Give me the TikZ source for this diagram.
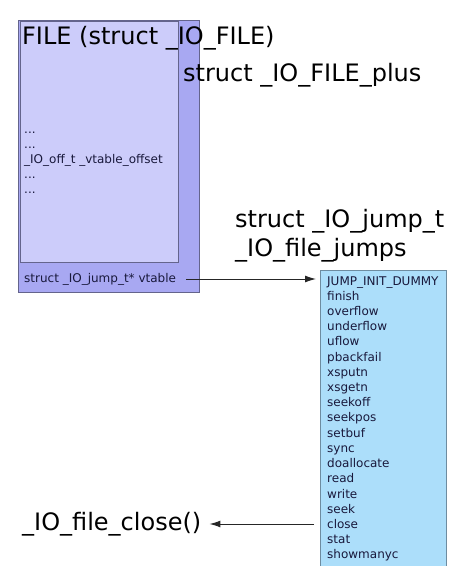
\documentclass[tikz,border=0pt]{standalone}
\usepackage{fontspec}
\setmainfont{DejaVu Sans}
\usetikzlibrary{arrows.meta}
\definecolor{plusfill}{RGB}{168,168,242}
\definecolor{filefill}{RGB}{204,204,250}
\definecolor{boxline}{RGB}{100,100,140}
\definecolor{jumpfill}{RGB}{172,222,250}
\definecolor{jumpline}{RGB}{110,140,160}
\definecolor{smalltext}{RGB}{25,25,60}
\tikzset{
  bigtext/.style={anchor=base west, inner sep=0pt, font=\fontsize{24}{28}\selectfont, text=black},
  smalltxt/.style={anchor=base west, inner sep=0pt, font=\fontsize{12}{14}\selectfont, text=smalltext},
  boxshape/.style={draw=boxline, line width=0.8pt, anchor=north west, inner sep=0pt},
  arr/.style={draw=black!85, line width=1pt, -{Latex[length=11pt,width=7pt]}}
}
\begin{document}
\begin{tikzpicture}[x=1pt,y=-1pt]
\useasboundingbox (0,0) rectangle (458,566);
\clip (0,0) rectangle (458,566);
\fill[white] (0,0) rectangle (458,566);
% boxes
\node[boxshape, fill=plusfill, minimum width=181pt, minimum height=272pt] (plus) at (18,20) {};
\node[boxshape, fill=filefill, minimum width=158pt, minimum height=241pt] (file) at (19.5,20.5) {};
\node[boxshape, draw=jumpline, fill=jumpfill, minimum width=126pt, minimum height=330pt] (jt) at (320,270) {};
% titles
\node[bigtext] (filetitle) at (22,44) {FILE (struct \_IO\_FILE)};
\node[bigtext] (plustitle) at (183,81) {struct \_IO\_FILE\_plus};
\node[bigtext] (jttitle1) at (235,227) {struct \_IO\_jump\_t};
\node[bigtext] (jttitle2) at (235,256) {\_IO\_file\_jumps};
\node[bigtext] (closefn) at (22,530) {\_IO\_file\_close()};
% FILE fields
\node[smalltxt] (d1) at (24,133) {...};
\node[smalltxt] (d2) at (24,148) {...};
\node[smalltxt] (voff) at (24,163) {\_IO\_off\_t \_vtable\_offset};
\node[smalltxt] (d3) at (24,178) {...};
\node[smalltxt] (d4) at (24,193) {...};
\node[smalltxt] (vtable) at (24,282) {struct \_IO\_jump\_t* vtable};
% jump table entries
\foreach \name [count=\i from 0] in {JUMP\_INIT\_DUMMY,finish,overflow,underflow,uflow,pbackfail,xsputn,xsgetn,seekoff,seekpos,setbuf,sync,doallocate,read,write,seek,close,stat,showmanyc}
  \node[smalltxt] (e\i) at (327,{285+15.22*\i}) {\name};
% connectors
\coordinate (vs) at ([xshift=10pt]vtable.east |- 0,279);
\draw[arr] (vs) -- ([xshift=-4pt]vs -| jt.west);
\coordinate (cs) at ([xshift=-6pt]jt.west |- 0,524);
\draw[arr] (cs) -- ([xshift=8pt]closefn.east |- cs);
\end{tikzpicture}
\end{document}
